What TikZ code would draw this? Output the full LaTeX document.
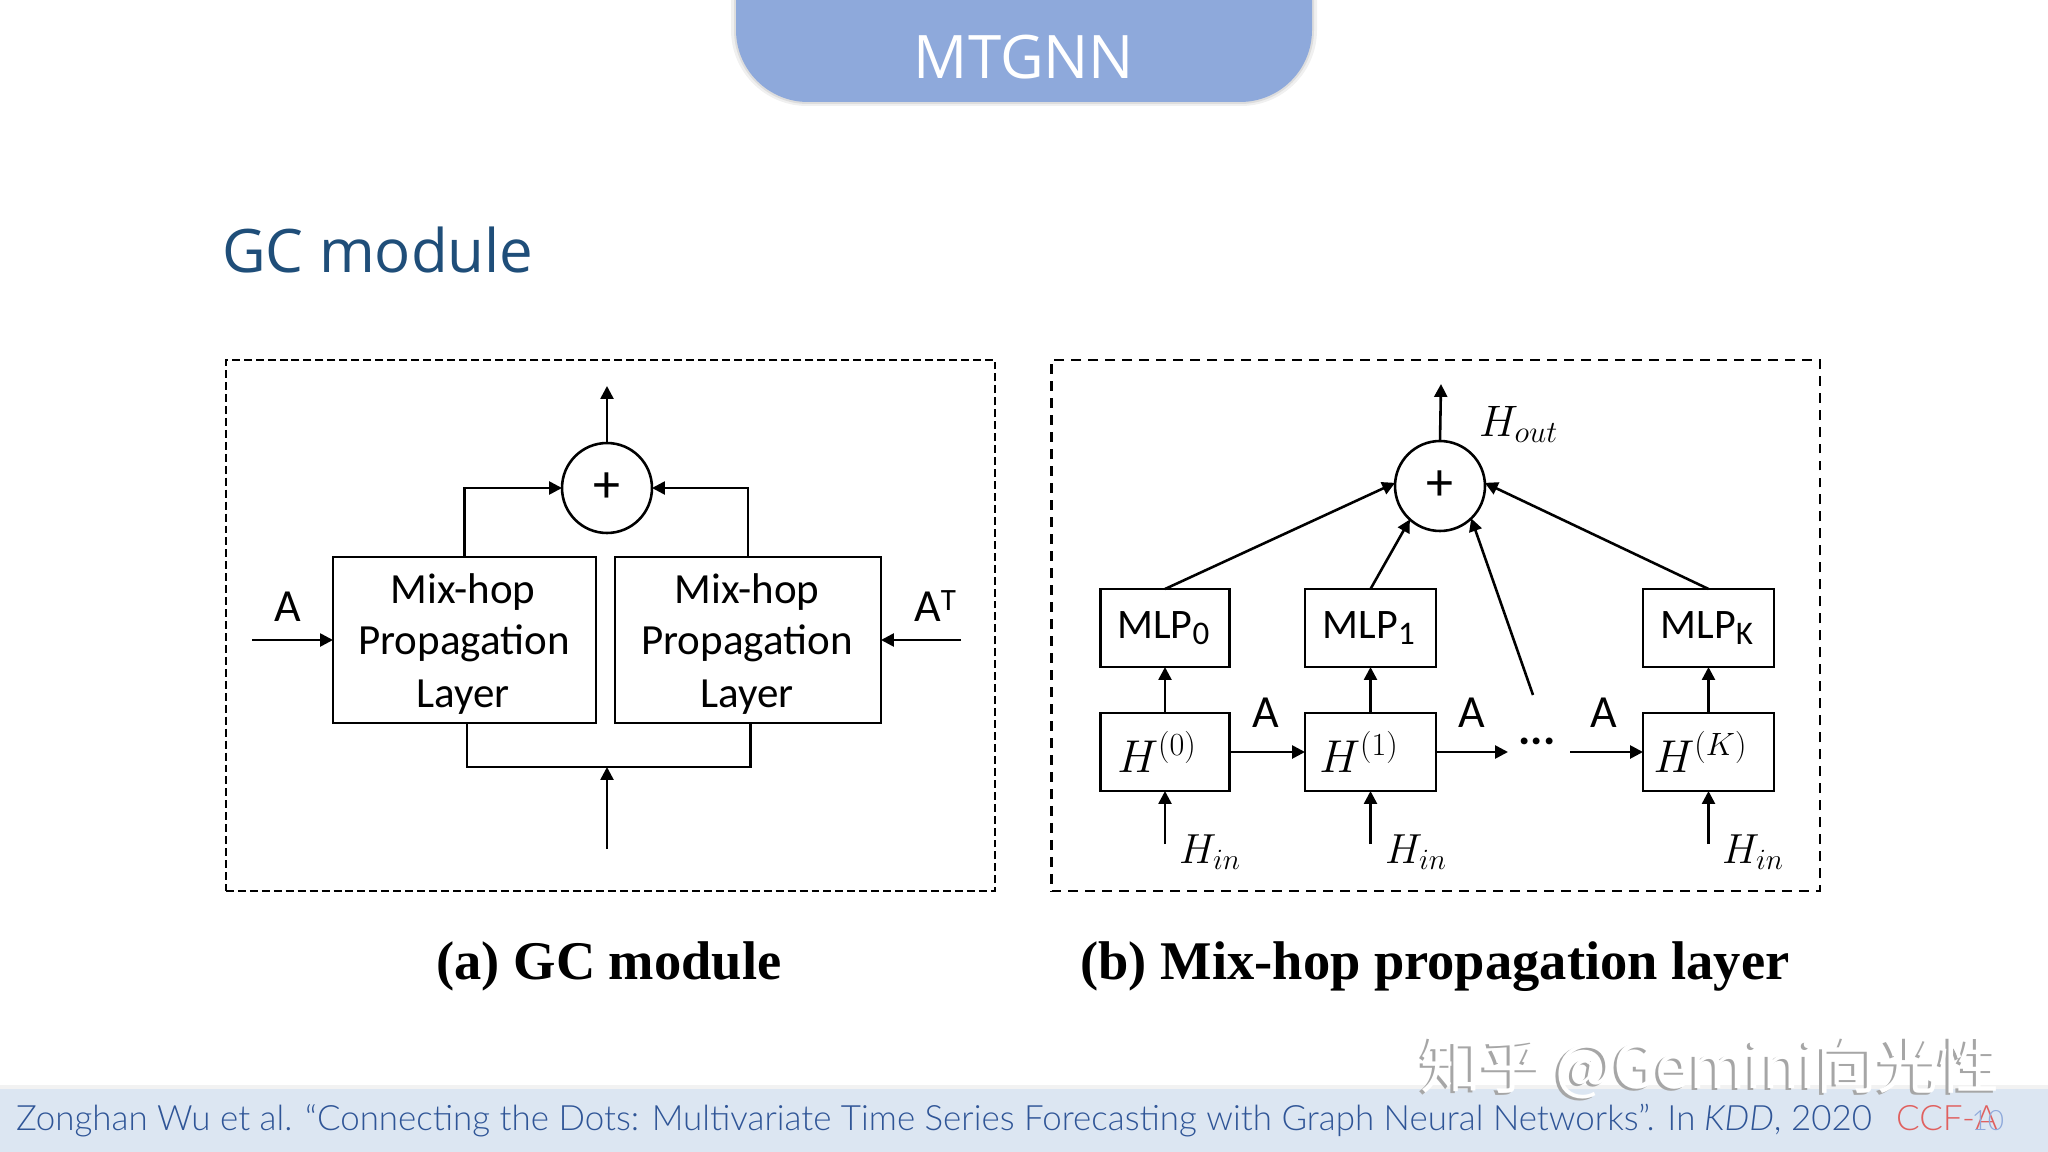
\documentclass[tikz,border=0pt]{standalone}
\usepackage{fix-cm}
\usepackage{fontspec}
\usetikzlibrary{arrows.meta}
\setmainfont{Carlito}
\newfontfamily\opensans{Open Sans}
\newfontfamily\latofont{Lato Light}
\newfontfamily\capfont{Liberation Serif}
\newfontfamily\cjkfont{Noto Sans CJK SC}
\definecolor{barblue}{HTML}{8EA9DB}
\definecolor{headblue}{HTML}{1F4E79}
\definecolor{footband}{HTML}{DCE6F2}
\definecolor{foottext}{HTML}{2F5597}
\definecolor{ccfred}{HTML}{E0605F}
\newlength{\pxu}\setlength{\pxu}{0.8536pt}
\newcommand{\fpx}[1]{\fontsize{\dimexpr#1\pxu\relax}{\dimexpr#1\pxu*12/10\relax}\selectfont}
\tikzset{
  x=0.8536pt,y=-0.8536pt,
  panel/.style={draw,line width=2.05pt,dash pattern=on 6.8pt off 3.4pt},
  panelb/.style={draw,line width=2.05pt,dash pattern=on 8.5pt off 6pt},
  blockbox/.style={draw,line width=2.2pt,inner sep=0pt,outer sep=0pt,align=center,font=\fpx{42},text depth=0pt},
  mlpbox/.style={draw,line width=2.2pt,inner sep=0pt,outer sep=0pt,minimum height=66.6pt,font=\fpx{42}},
  sumnode/.style={draw,circle,line width=2.2pt,inner sep=0pt,outer sep=0pt,minimum size=76.8pt,font=\fpx{54}},
  wire/.style={line width=2.2pt},
  arr/.style={line width=2.2pt,-{Triangle[length=11pt,width=11pt]}},
  lab/.style={inner sep=0pt,outer sep=0pt},
  alab/.style={inner sep=0pt,outer sep=0pt,font=\fpx{46}},
  mathlab/.style={inner sep=0pt,outer sep=0pt,anchor=base west,font=\fpx{42}},
  mixtext/.style={inner sep=0pt,outer sep=0pt,font=\fpx{43}},
}
\begin{document}
\begin{tikzpicture}
\useasboundingbox (0,0) rectangle (2048,1152);
\fill[white] (0,0) rectangle (2048,1152);
% title bar
\fill[black,opacity=.06,rounded corners=65pt] (731,-120) rectangle (1317,106);
\fill[black,opacity=.08,rounded corners=63pt] (734,-120) rectangle (1314,104);
\fill[barblue,rounded corners=61.5pt] (736,-120) rectangle (1312,102);
\node[lab,text=white,anchor=base,font={\opensans\fpx{60}}] (title) at (1024,79) {MTGNN};
\node[lab,text=headblue,anchor=base west,font={\opensans\fpx{60}}] (head) at (222,272) {GC module};
% left panel
\node[panel,minimum width=656.4pt,minimum height=453.3pt,inner sep=0pt,outer sep=0pt,anchor=north west] (pa) at (226,360) {};
\node[sumnode] (s1) at (607,488) {\raisebox{-4pt}{+}};
\node[blockbox,minimum width=224.5pt,minimum height=141.7pt] (b1) at (464.5,640) {};
\node[blockbox,minimum width=227pt,minimum height=141.7pt] (b2) at (748,640) {};
\node[mixtext] (b1a) at (463,592) {Mix-hop};
\node[mixtext] (b1b) at (464,643) {Propagation};
\node[mixtext] (b1c) at (463,697) {Layer};
\node[mixtext] (b2a) at (747,592) {Mix-hop};
\node[mixtext] (b2b) at (747,643) {Propagation};
\node[mixtext] (b2c) at (747,697) {Layer};
\coordinate (inA) at (252,640);
\coordinate (inB) at (961,640);
\coordinate (outa) at (607,386);
\coordinate (bot) at (607,849);
\coordinate (join) at (607,767);
\draw[arr] (s1.north) -- (outa);
\draw[arr] (b1.north) |- (s1.west);
\draw[arr] (b2.north) |- (s1.east);
\draw[arr] (inA) -- (b1.west);
\draw[arr] (inB) -- (b2.east);
\draw[wire] ([xshift=2.2pt]b1.south) |- (join) -| ([xshift=2pt]b2.south);
\draw[arr] (bot) -- (join);
\node[alab] (la) at (288,607) {A};
\node[alab] (lat) at (935,606) {A\raisebox{10pt}{\fpx{31}T}};
% right panel
\node[panelb,minimum width=656pt,minimum height=453.3pt,inner sep=0pt,outer sep=0pt,anchor=north west] (pb) at (1051.5,360) {};
\node[sumnode] (s2) at (1440,486) {\raisebox{-4pt}{+}};
\node[mlpbox,minimum width=110pt] (m0) at (1165,628) {\kern-3pt\raisebox{-2pt}{MLP\raisebox{-5pt}{\fpx{33}0}}};
\node[mlpbox,minimum width=111.8pt] (m1) at (1370.5,628) {\kern-3pt\raisebox{-2pt}{MLP\raisebox{-5pt}{\fpx{33}1}}};
\node[mlpbox,minimum width=111.8pt] (mk) at (1708.5,628) {\kern-3pt\raisebox{-2pt}{MLP\raisebox{-5pt}{\fpx{33}K}}};
\node[mlpbox,minimum width=110pt] (h0) at (1165,752) {\fpx{46}$H^{(0)}$\kern14pt};
\node[mlpbox,minimum width=111.8pt] (h1) at (1370.5,752) {\fpx{46}$H^{(1)}$\kern20pt};
\node[mlpbox,minimum width=111.8pt] (hk) at (1708.5,752) {\fpx{46}$H^{(K)}$\kern14pt};
\coordinate (outb) at (1441,384);
\coordinate (dotsin) at (1508,752);
\coordinate (dotsout) at (1570,752);
\coordinate (loose) at (1533,695);
\coordinate (in0) at (1165,844);
\coordinate (in1) at (1370.5,844);
\coordinate (ink) at (1708.5,844);
\draw[arr] (s2.north) -- (outb);
\draw[arr] (m0.north) -- (s2.176);
\draw[arr] (m1.north) -- (s2.228);
\draw[arr] (loose) -- (s2.314);
\draw[arr] (mk.north) -- (s2.4);
\draw[arr] (h0.north) -- (m0.south);
\draw[arr] (h1.north) -- (m1.south);
\draw[arr] (hk.north) -- (mk.south);
\draw[arr] (h0.east) -- (h1.west);
\draw[arr] (h1.east) -- (dotsin);
\draw[arr] (dotsout) -- (hk.west);
\draw[arr] (in0) -- (h0.south);
\draw[arr] (in1) -- (h1.south);
\draw[arr] (ink) -- (hk.south);
\node[alab] (a1) at (1266,713) {A};
\node[alab] (a2) at (1472,713) {A};
\node[alab] (a3) at (1604,713) {A};
\node[lab,font={\bfseries\fpx{46}}] (dots) at (1537,741) {...};
\node[mathlab,font=\fpx{44}] (hout) at (1479,436) {$H_{out}$};
\node[mathlab] (hi0) at (1179,863) {$H_{in}$};
\node[mathlab] (hi1) at (1385,863) {$H_{in}$};
\node[mathlab] (hik) at (1722,863) {$H_{in}$};
% captions
\node[lab,anchor=base,font={\capfont\bfseries\fpx{54.5}}] (capa) at (609,979) {(a) GC module};
\node[lab,anchor=base,font={\capfont\bfseries\fpx{54.5}}] (capb) at (1435,979) {(b) Mix-hop propagation layer};
% footer
\fill[black,opacity=.05] (0,1085) rectangle (2048,1152);
\fill[footband] (0,1089) rectangle (2048,1152);
\node[lab,anchor=base west,text=foottext,font={\latofont\fpx{34.9}}] (foot) at (16,1130) {Zonghan Wu et al. “Connecting the Dots: Multivariate Time Series Forecasting with Graph Neural Networks”. In \textit{KDD}, 2020};
\node[lab,anchor=base west,text=ccfred,font={\latofont\fpx{35}}] (ccf) at (1896,1130) {CCF-A};
\node[lab,anchor=base east,text=barblue,font={\latofont\fpx{28}}] (pg) at (2004,1130) {10};
% watermark
\node[lab,anchor=base west,text=black!35,font={\cjkfont\fpx{61}}] (wma) at (1417,1090) {知乎 @Gemini向光性};
\node[lab,anchor=base west,text=white,font={\cjkfont\fpx{61}}] (wmb) at (1420,1088) {知乎 @Gemini向光性};
\end{tikzpicture}
\end{document}
